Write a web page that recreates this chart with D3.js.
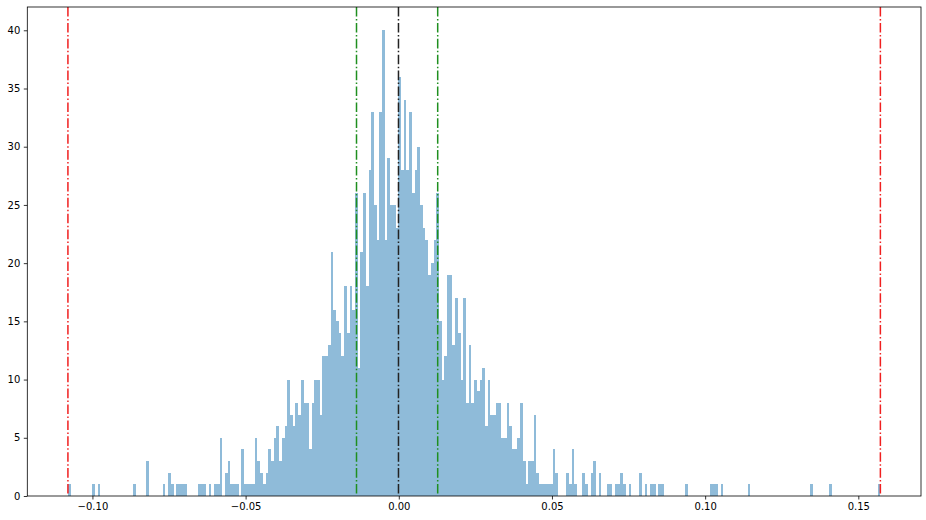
<!DOCTYPE html>
<html>
<head>
<meta charset="utf-8">
<script src="https://cdn.jsdelivr.net/npm/d3@7"></script>
<style>
  body { margin: 0; background: #fff; }
  text { font-family: "DejaVu Sans", sans-serif; }
</style>
</head>
<body>
<div class="chart"></div>
<script>
// histogram counts, 300 equal bins between xMin and xMax
var counts = [
  1,0,0,0,0,0,0,0,0,1, 0,1,0,0,0,0,0,0,0,0,
  0,0,0,0,1,0,0,0,0,3, 0,0,0,0,0,1,0,2,1,0,
  1,1,1,1,0,0,0,0,1,1, 1,0,1,0,1,1,5,0,2,3,
  1,1,1,0,4,1,1,1,1,5, 3,2,1,2,4,3,5,6,3,5,
  6,10,7,6,8,7,10,8,8,4, 8,10,10,7,12,12,13,21,16,15,
  14,12,18,14,18,16,26,11,21,26, 18,28,33,25,22,33,40,22,29,25,
  25,23,36,28,34,28,33,26,28,30, 25,23,22,19,20,22,26,15,10,12,
  19,19,13,17,14,10,17,8,13,8, 10,9,10,11,6,10,7,7,8,8,
  5,5,8,6,4,4,5,8,3,1, 3,3,7,2,1,1,1,1,1,4,
  2,0,0,0,2,1,4,1,0,0, 2,1,0,2,3,0,2,0,0,1,
  1,0,1,1,2,1,0,1,0,0, 0,2,0,1,0,1,1,0,1,1,
  0,0,0,0,0,0,0,0,1,0, 0,0,0,0,0,0,0,1,1,1,
  0,1,0,0,0,0,0,0,0,0, 0,1,0,0,0,0,0,0,0,0,
  0,0,0,0,0,0,0,0,0,0, 0,0,0,0,1,0,0,0,0,0,
  0,1,0,0,0,0,0,0,0,0, 0,0,0,0,0,0,0,0,0,1
]
var xMin = -0.1080
var xMax = 0.1572

// vertical reference lines (min/max, +-band, centre)
var vLines = [
  { value: xMin,    color: '#f02020' },
  { value: xMax,    color: '#f02020' },
  { value: -0.0138, color: '#1f8f1f' },
  { value: 0.0127,  color: '#1f8f1f' },
  { value: -0.0001, color: '#222222' }
]

var xTicks = [-0.10, -0.05, 0.00, 0.05, 0.10, 0.15]
var yTicks = [0, 5, 10, 15, 20, 25, 30, 35, 40]

var margin = { top: 7, right: 5, bottom: 24, left: 27.3 }
var width = 926 - margin.left - margin.right
var height = 520 - margin.top - margin.bottom

var svg = d3.select('.chart')
  .append('svg')
    .attr('width', 926)
    .attr('height', 520)
  .append('g')
    .attr('transform', `translate(${margin.left}, ${margin.top})`)

// matplotlib style 5% margin on x, 0..max*1.05 on y
var pad = (xMax - xMin) * 0.05
var xScale = d3.scaleLinear()
  .domain([xMin - pad, xMax + pad])
  .range([0, width])

var yScale = d3.scaleLinear()
  .domain([0, d3.max(counts) * 1.05])
  .range([height, 0])

var binW = (xMax - xMin) / counts.length
var bins = counts.map((c, i) => ({ x0: xMin + i * binW, x1: xMin + (i + 1) * binW, n: c }))

svg.selectAll('rect.bar')
  .data(bins.filter(b => b.n > 0))
  .enter()
  .append('rect')
    .attr('class', 'bar')
    .attr('x', d => xScale(d.x0))
    .attr('width', d => xScale(d.x1) - xScale(d.x0))
    .attr('y', d => yScale(d.n))
    .attr('height', d => yScale(0) - yScale(d.n))
    .attr('fill', '#8fbbd9')
    .attr('shape-rendering', 'crispEdges')

svg.selectAll('line.vline')
  .data(vLines)
  .enter()
  .append('line')
    .attr('class', 'vline')
    .attr('x1', d => xScale(d.value))
    .attr('x2', d => xScale(d.value))
    .attr('y1', 0)
    .attr('y2', height)
    .attr('stroke', d => d.color)
    .attr('stroke-width', 1.5)
    .attr('stroke-dasharray', '9.6,2.4,1.5,2.4')

var xAxis = d3.axisBottom(xScale)
  .tickValues(xTicks)
  .tickFormat(d3.format('.2f'))
  .tickSizeInner(3.5)
  .tickSizeOuter(0)
  .tickPadding(3.5)

var yAxis = d3.axisLeft(yScale)
  .tickValues(yTicks)
  .tickFormat(d3.format('d'))
  .tickSizeInner(3.5)
  .tickSizeOuter(0)
  .tickPadding(3.5)

var gx = svg.append('g')
  .attr('transform', `translate(0, ${height})`)
  .call(xAxis)
var gy = svg.append('g').call(yAxis)

;[gx, gy].forEach(function (g) {
  g.select('.domain').remove()
  g.selectAll('.tick line').attr('stroke', '#000').attr('stroke-width', 0.8)
  g.selectAll('.tick text').attr('fill', '#000').style('font-size', '10px')
})

svg.append('rect')
  .attr('width', width)
  .attr('height', height)
  .attr('fill', 'none')
  .attr('stroke', '#000')
  .attr('stroke-width', 0.8)
</script>
</body>
</html>
